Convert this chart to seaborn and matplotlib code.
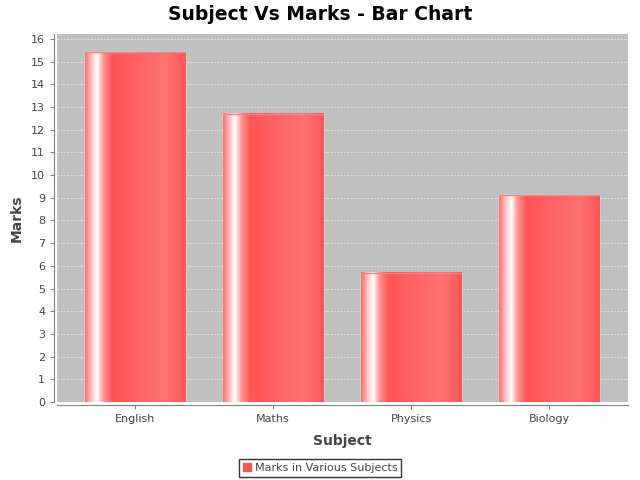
import numpy as np
import pandas as pd
import matplotlib
matplotlib.use('Agg')
import matplotlib.pyplot as plt
import seaborn as sns
from matplotlib.patches import Patch

# chart data
subjects = ['English', 'Maths', 'Physics', 'Biology']
marks = [15.4, 12.7, 5.7, 9.1]
series_name = 'Marks in Various Subjects'

df = pd.DataFrame({'Subject': subjects, 'Marks': marks})

sns.set_style('white')
plt.rcParams['font.family'] = ['DejaVu Sans']

fig = plt.figure(figsize=(6.4, 4.8), dpi=100)
ax = fig.add_axes([0.089, 0.1625, 0.892, 0.767])
ax.set_facecolor('#c0c0c0')

sns.barplot(data=df, x='Subject', y='Marks', color='#ff5555', width=0.725,
            saturation=1, ax=ax, zorder=2)

# gradient like JFreeChart's bar painter
stops = [0.0, 0.06, 0.12, 0.18, 0.27, 0.55, 0.80, 1.0]
cols = np.array([[255, 110, 110], [255, 190, 190], [255, 255, 255], [255, 150, 150],
                 [255, 85, 85], [255, 100, 100], [255, 115, 115], [255, 85, 85]]) / 255
xs = np.linspace(0, 1, 200)
grad = np.stack([np.interp(xs, stops, cols[:, i]) for i in range(3)], axis=-1)[None, :, :]
for p in ax.patches:
    x0, w, h = p.get_x(), p.get_width(), p.get_height()
    ax.imshow(grad, extent=(x0, x0 + w, 0, h), aspect='auto', zorder=3,
              interpolation='bilinear')
    ax.plot([x0, x0 + w], [h, h], color='#e88888', lw=1, zorder=4)

ax.set_xlim(-0.565, 3.57)
ax.set_ylim(0, 16.22)
ax.set_yticks(range(0, 17))
ax.yaxis.grid(True, color='#f0f0f0', linestyle=(0, (2, 2)), linewidth=0.6)
ax.set_axisbelow(True)

for s in ['top', 'right']:
    ax.spines[s].set_visible(False)
ax.spines['left'].set_color('#808080')
ax.spines['bottom'].set_color('#808080')
ax.spines['left'].set_position(('outward', 2))
ax.spines['bottom'].set_position(('outward', 2))
ax.tick_params(axis='both', which='both', length=3, color='#808080',
               labelsize=8, labelcolor='#444444', direction='out',
               left=True, bottom=True)

ax.set_xlabel('Subject', fontsize=10, fontweight='bold', color='#444444', labelpad=7)
ax.set_ylabel('Marks', fontsize=10, fontweight='bold', color='#444444', labelpad=5)
fig.suptitle('Subject Vs Marks - Bar Chart', fontsize=13.5, fontweight='bold',
             color='black', y=0.99)

leg = fig.legend(handles=[Patch(color='#ff5555', label=series_name)],
                 loc='lower center', bbox_to_anchor=(0.5, 0.0), fontsize=8,
                 frameon=True, fancybox=False, handlelength=0.8, handleheight=0.8,
                 handletextpad=0.3, borderpad=0.35, borderaxespad=0.3)
leg.get_frame().set_edgecolor('black')
leg.get_frame().set_linewidth(1)
for t in leg.get_texts():
    t.set_color('#444444')

fig.savefig('out.png', dpi=100)
